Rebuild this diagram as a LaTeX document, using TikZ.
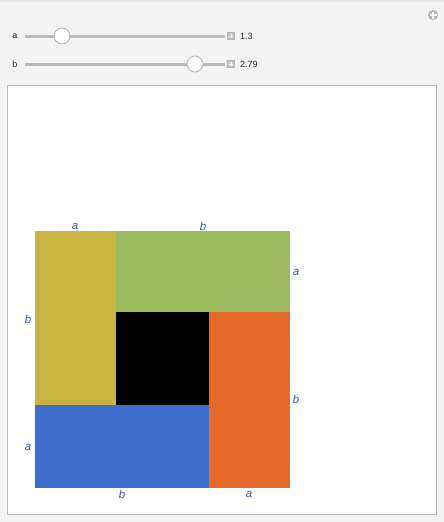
\documentclass[tikz,border=0pt]{standalone}
\usepackage{fontspec}
\setmainfont{Liberation Sans}
\begin{document}
\begin{tikzpicture}[x=1pt,y=-1pt,
  lbl/.style={font=\fontsize{11.5}{12}\selectfont\itshape, text=labblue, inner sep=0pt},
  ctl/.style={font=\fontsize{9}{10}\selectfont, text=black!85, inner sep=0pt},
  track/.style={draw=black!27, line width=3pt},
  knob/.style={circle, draw=black!30, fill=white, line width=0.8pt, minimum size=16pt, inner sep=0pt},
  plusbox/.style={draw=black!30, fill=black!22, minimum size=7pt, inner sep=0pt,
    path picture={\draw[white, line width=0.7pt] ([xshift=1.3pt]path picture bounding box.west) -- ([xshift=-1.3pt]path picture bounding box.east)
      ([yshift=-1.3pt]path picture bounding box.north) -- ([yshift=1.3pt]path picture bounding box.south);}}]
\definecolor{labblue}{RGB}{58,88,180}
\definecolor{cyellow}{RGB}{201,180,65}
\definecolor{cgreen}{RGB}{155,187,92}
\definecolor{corange}{RGB}{230,105,42}
\definecolor{cblue}{RGB}{61,110,206}
\definecolor{bgpanel}{RGB}{243,243,243}
% background
\fill[bgpanel] (0,0) rectangle (444,522);
\useasboundingbox (0,0) rectangle (444,522);
\fill[black!10] (0,0) rectangle (444,2);
% plus icon
\node[circle, fill=black!30, minimum size=10pt, inner sep=0pt] (plusicon) at (433,15) {};
\draw[white, line width=1.2pt] (429.5,15) -- (436.5,15) (433,11.5) -- (433,18.5);
% slider a
\node[ctl] (la) at (15,36) {a};
\coordinate (ta0) at (25,36); \coordinate (ta1) at (225,36);
\draw[track] (ta0) -- (ta1);
\node[knob] (ka) at (62,36) {};
\node[plusbox] (pa) at (231,36) {};
\node[ctl, anchor=west] (va) at (240,36) {1.3};
% slider b
\node[ctl] (lb) at (15,64) {b};
\coordinate (tb0) at (25,64); \coordinate (tb1) at (225,64);
\draw[track] (tb0) -- (tb1);
\node[knob] (kb) at (195,64) {};
\node[plusbox] (pb) at (231,64) {};
\node[ctl, anchor=west] (vb) at (240,64) {2.79};
% white panel
\draw[black!28, fill=white, line width=0.8pt] (7,85) rectangle (436,514);
% regions
\fill[cyellow] (35,231) rectangle (116,405);
\fill[cgreen] (116,231) rectangle (290,312);
\fill[black] (116,312) rectangle (209,405);
\fill[corange] (209,312) rectangle (290,488);
\fill[cblue] (35,405) rectangle (209,488);
% labels
\node[lbl] (t1) at (75,226) {a};
\node[lbl] (t2) at (203,226) {b};
\node[lbl] (r1) at (296,272) {a};
\node[lbl] (r2) at (296,399) {b};
\node[lbl] (l1) at (28,319) {b};
\node[lbl] (l2) at (28,447) {a};
\node[lbl] (b1) at (122,494) {b};
\node[lbl] (b2) at (249,494) {a};
\end{tikzpicture}
\end{document}
